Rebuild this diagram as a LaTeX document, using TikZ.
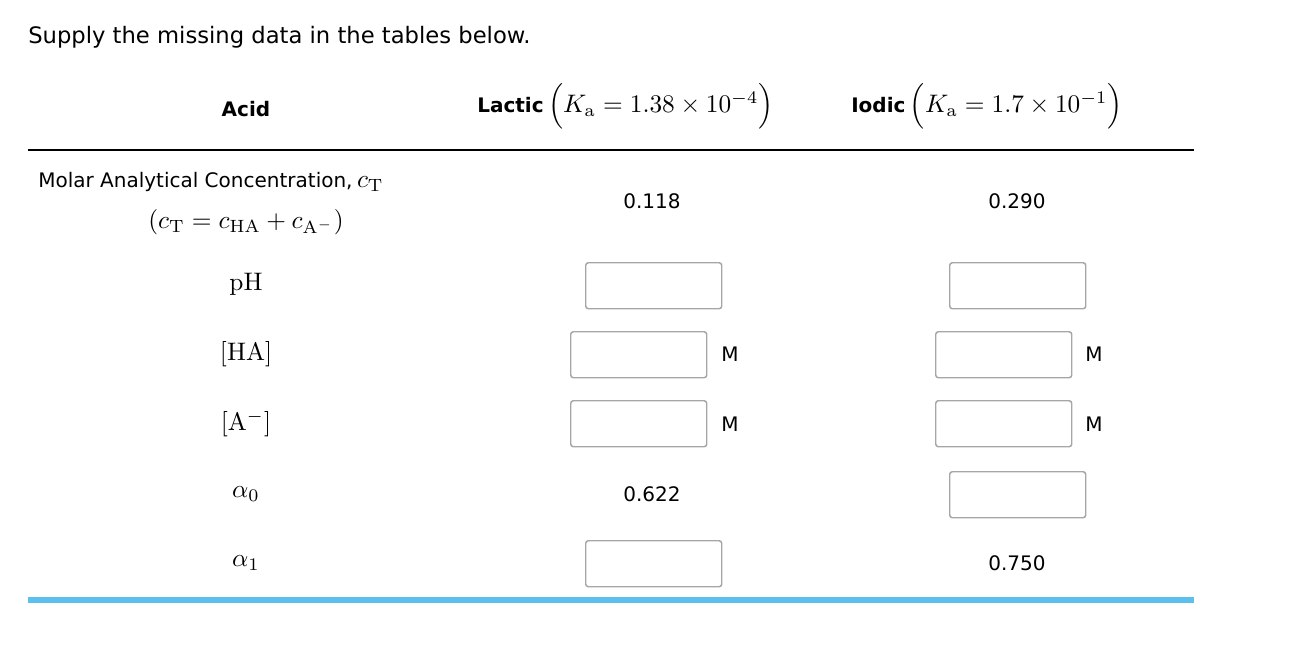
\documentclass[tikz,border=0pt]{standalone}
\usepackage{amsmath}
\usepackage{graphicx}
\usepackage{fontspec}
\setsansfont{DejaVu Sans}
\newcommand{\mymath}[1]{\scalebox{1.9}{\fontsize{10}{12}\selectfont$#1$}}
\begin{document}
\begin{tikzpicture}[x=0.75pt,y=-0.75pt,
  lbl/.style={font=\sffamily\fontsize{15}{18}\selectfont, inner sep=0pt},
  mth/.style={inner sep=0pt},
  ibox/.style={draw=gray!70, rounded corners=2pt, line width=1.1pt, minimum width=102pt, minimum height=34.5pt, inner sep=0pt, anchor=north west}]
\useasboundingbox (0,0) rectangle (1314,656);
\node[anchor=west, inner sep=0pt, font=\sffamily\fontsize{17}{20}\selectfont] (title) at (28,37) {Supply the missing data in the tables below.};
\node[lbl, font=\sffamily\bfseries\fontsize{15}{18}\selectfont] (acid) at (246,109) {Acid};
\node[anchor=west, inner sep=0pt] (lac) at (477,106) {{\sffamily\bfseries\fontsize{15}{18}\selectfont Lactic} \mymath{\Bigl(K_{\mathrm{a}} = 1.38\times10^{-4}\Bigr)}};
\node[anchor=west, inner sep=0pt] (iod) at (851,106) {{\sffamily\bfseries\fontsize{15}{18}\selectfont Iodic} \mymath{\Bigl(K_{\mathrm{a}} = 1.7\times10^{-1}\Bigr)}};
\coordinate (l1) at (28,150); \coordinate (l2) at (1194,150);
\draw[line width=1.1pt] (l1) -- (l2);
\node[anchor=west, inner sep=0pt] (mac) at (38,182) {{\sffamily\fontsize{15}{18}\selectfont Molar Analytical Concentration,} \mymath{c_{\mathrm{T}}}};
\node[mth] (ct) at (246,222) {\mymath{(c_{\mathrm{T}} = c_{\mathrm{HA}} + c_{\mathrm{A^-}})}};
\node[lbl] (v1) at (652,201) {0.118};
\node[lbl] (v2) at (1017,201) {0.290};
\node[mth] (ph) at (246,284) {\mymath{\mathrm{pH}}};
\node[mth] (ha) at (246,354) {\mymath{[\mathrm{HA}]}};
\node[mth] (a) at (246,424) {\mymath{[\mathrm{A}^-]}};
\node[mth] (a0) at (246,494) {\mymath{\alpha_0}};
\node[mth] (a1) at (246,563) {\mymath{\alpha_1}};
\node[ibox] (b1) at (585,262) {};
\node[ibox] (b2) at (949,262) {};
\node[ibox] (b3) at (570,331) {};
\node[ibox] (b4) at (935,331) {};
\node[lbl] (m1) at (730,354) {M};
\node[lbl] (m2) at (1094,354) {M};
\node[ibox] (b5) at (570,400) {};
\node[ibox] (b6) at (935,400) {};
\node[lbl] (m3) at (730,424) {M};
\node[lbl] (m4) at (1094,424) {M};
\node[lbl] (v3) at (652,494) {0.622};
\node[ibox] (b7) at (949,471) {};
\node[ibox] (b8) at (585,540) {};
\node[lbl] (v4) at (1017,563) {0.750};
\coordinate (q1) at (28,600); \coordinate (q2) at (1194,600);
\draw[line width=3.8pt, color={rgb,255:red,91;green,192;blue,235}] (q1) -- (q2);
\end{tikzpicture}
\end{document}
